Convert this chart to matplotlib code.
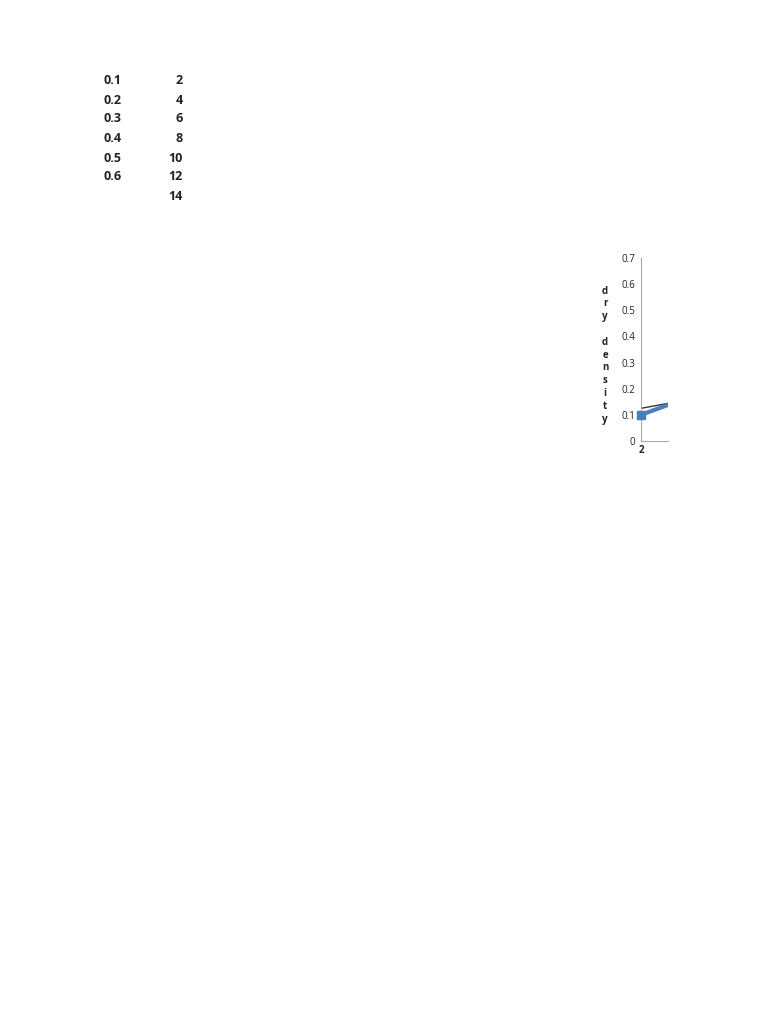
import matplotlib
matplotlib.use("Agg")
import matplotlib.pyplot as plt

# table data
col_a = ["0.1", "0.2", "0.3", "0.4", "0.5", "0.6"]
col_b = ["2", "4", "6", "8", "10", "12", "14"]

# chart data
x_vals = [2, 4, 6, 8, 10, 12, 14]
dry_density = [0.1, 0.2, 0.3, 0.4, 0.5, 0.6]
trend_vals = [0.125, 0.175]
y_ticks = [0, 0.1, 0.2, 0.3, 0.4, 0.5, 0.6, 0.7]
y_label = "dry density"

W, H = 768, 1024
fig = plt.figure(figsize=(W / 100, H / 100), dpi=100)
fig.patch.set_facecolor("white")

font = "Open Sans"
row_y = [79, 99, 118, 137, 157, 176, 195]
for i, t in enumerate(col_a):
    fig.text(104 / W, 1 - row_y[i] / H, t, ha="left", va="baseline",
             fontsize=9, fontweight="bold", family=font, color="#222222",
             transform=None, x=104, y=H - row_y[i] - 5) if False else \
        fig.text(104 / W, 1 - (row_y[i] + 4.5) / H, t, ha="left",
                 va="baseline", fontsize=9, fontweight="bold", family=font,
                 color="#222222")
for i, t in enumerate(col_b):
    fig.text(183 / W, 1 - (row_y[i] + 4.5) / H, t, ha="right",
             va="baseline", fontsize=9, fontweight="bold", family=font,
             color="#222222")

# clipped chart
x0, x1 = 641, 668
y0, y1 = 441, 258
ax = fig.add_axes([x0 / W, 1 - y0 / H, (x1 - x0) / W, (y0 - y1) / H])
px_per_cat = 71.0
ax.set_xlim(2, 2 + 2 * (x1 - x0) / px_per_cat)
ax.set_ylim(0, 0.7)
ax.plot(x_vals[:len(trend_vals)], trend_vals, color="#333333", lw=1.0,
        zorder=2, clip_on=True)
ax.plot(x_vals[:len(dry_density)], dry_density, color="#4a7ebb", lw=3,
        zorder=3, clip_on=True)
ax.plot(x_vals[:1], dry_density[:1], color="#4a7ebb", lw=0, marker="s",
        markersize=5.5, zorder=4, clip_on=False)
for s in ["top", "right"]:
    ax.spines[s].set_visible(False)
for s in ["left", "bottom"]:
    ax.spines[s].set_color("#aaaaaa")
    ax.spines[s].set_linewidth(0.8)
ax.set_yticks(y_ticks)
ax.set_yticklabels([("%g" % v) for v in y_ticks], fontsize=7,
                   family=font, color="#222222")
ax.set_xticks([2])
ax.set_xticklabels(["2"], fontsize=7, fontweight="bold", family=font,
                   color="#222222")
ax.tick_params(axis="both", length=0)
ax.tick_params(axis="y", pad=4)
ax.tick_params(axis="x", pad=3)
ax.patch.set_alpha(0)

# stacked y label
ly = 291
step = 12.8
for ch in y_label:
    if ch != " ":
        fig.text(605 / W, 1 - ly / H, ch, ha="center", va="center",
                 fontsize=7, fontweight="bold", family=font, color="#222222")
    ly += step

fig.savefig("out.png", dpi=100, facecolor="white")
